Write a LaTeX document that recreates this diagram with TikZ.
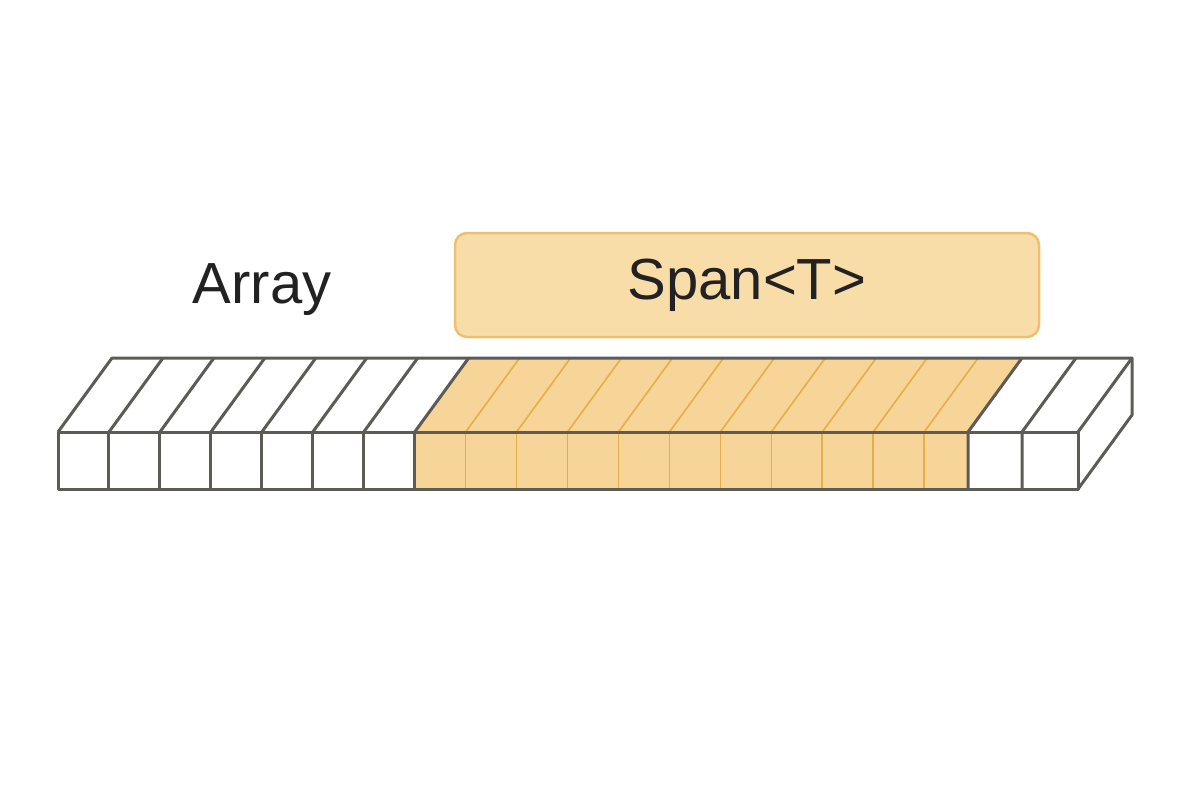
\documentclass[tikz,border=0pt]{standalone}
\usepackage{fontspec}
\setmainfont{Liberation Sans}
\definecolor{edge}{HTML}{5C5B56}
\definecolor{ofill}{HTML}{F7D497}
\definecolor{oline}{HTML}{E6AE48}
\definecolor{bfill}{HTML}{F9DDA9}
\definecolor{bline}{HTML}{EDC071}
\definecolor{txt}{HTML}{222222}
\begin{document}
\begin{tikzpicture}[x=1pt,y=-1pt,
  edgeline/.style={draw=edge,line width=3pt,line join=round},
  oedge/.style={draw=oline,line width=1.6pt},
  lbl/.style={font=\fontsize{58}{60}\selectfont,text=txt}]
\useasboundingbox (0,0) rectangle (1200,800);
\def\cw{50.95}
% top faces
\fill[ofill] (414.7,432) -- (468.7,358) -- (1022,358) -- (968,432) -- cycle;
\fill[ofill] (414.7,432) rectangle (968,489);
\foreach \i in {8,...,17}{
  \draw[oedge] ({58+\i*\cw},432) -- ({58+\i*\cw},489);
  \draw[oedge] ({58+\i*\cw},432) -- ({112+\i*\cw},358);
}
\foreach \i in {1,...,7}{
  \draw[edgeline] ({58+\i*\cw},432) -- ({58+\i*\cw},489);
  \draw[edgeline] ({58+\i*\cw},432) -- ({112+\i*\cw},358);
}
\draw[edgeline] (968,432) -- (968,489) (968,432) -- (1022,358);
\draw[edgeline] (1022,432) -- (1022,489) (1022,432) -- (1076,358);
\draw[edgeline] (58,432) rectangle (1078,489);
\draw[edgeline] (58,432) -- (112,358) -- (1132,358) -- (1132,415) -- (1078,489);
\draw[edgeline] (1078,432) -- (1132,358);
\node[draw=bline,fill=bfill,line width=2.5pt,rounded corners=12pt,minimum width=584pt,minimum height=104pt] (span) at (747,285) {};
\node[lbl] (spanlbl) at (span.center) {Span<T>};
\node[lbl] (array) at (262,290) {Array};
\end{tikzpicture}
\end{document}
